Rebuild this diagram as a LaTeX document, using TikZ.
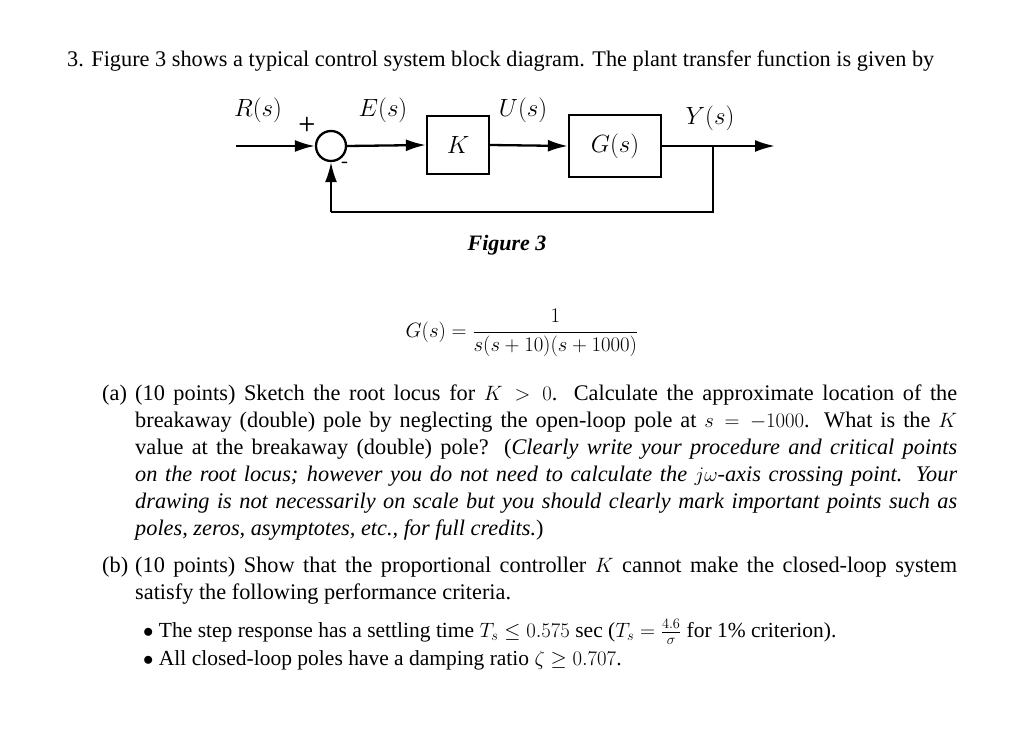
\documentclass[tikz,border=0pt]{standalone}
\usepackage{fontspec}
\setmainfont{Liberation Serif}
\usetikzlibrary{arrows.meta}
\begin{document}
\begin{tikzpicture}[x=1pt,y=-1pt,
  txt/.style={anchor=base west,inner sep=0pt,font=\fontsize{22.3}{26}\selectfont},
  lbl/.style={inner sep=0pt,font=\fontsize{24}{26}\selectfont},
  blk/.style={draw,line width=2.3pt,inner sep=0pt,font=\fontsize{24}{26}\selectfont},
  sig/.style={line width=2.3pt,-{Latex[length=20pt,width=12pt]}},
  ln/.style={line width=2.3pt}]
\useasboundingbox (0,0) rectangle (1024,738);
% heading
\node[txt] (h) at (67,67) {3. Figure 3 shows a typical control system block diagram. The plant transfer function is given by};
% block diagram
\coordinate (in) at (236,146);
\node[draw,circle,line width=2.3pt,minimum size=30pt,inner sep=0pt] (sum) at (331,146) {};
\node[blk,minimum width=62pt,minimum height=58pt] (K) at (458,145) {$K$};
\node[blk,minimum width=92pt,minimum height=62pt] (G) at (615,146) {$G(s)$};
\coordinate (br) at (713,146);
\coordinate (out) at (775,146);
\coordinate (c1) at (713,212);
\coordinate (c2) at (331,212);
\draw[sig] (in) -- (sum.west);
\draw[sig] (sum.east) -- (K.west);
\draw[sig] (K.east) -- (G.west);
\draw[sig] (G.east) -- (out);
\draw[ln] (br) -- (c1) -- (c2);
\draw[sig] (c2) -- (sum.south);
\node[lbl] (R) at (258,110) {$R(s)$};
\node[lbl,font=\sffamily\bfseries\fontsize{20}{20}\selectfont] (p) at (307,125) {+};
\node[lbl] (E) at (383,110) {$E(s)$};
\node[lbl] (U) at (523,110) {$U(s)$};
\node[lbl] (Y) at (710,118) {$Y(s)$};
\node[lbl,font=\sffamily\bfseries\fontsize{20}{20}\selectfont] (m) at (345,165) {-};
\node[inner sep=0pt,font=\fontsize{22}{25}\selectfont\bfseries\itshape] (f3) at (507,245) {Figure 3};
% equation
\node[inner sep=0pt,font=\fontsize{22}{26}\selectfont] (eq) at (522,333) {$\displaystyle G(s)=\frac{1}{s(s+10)(s+1000)}$};
% (a)
\node[txt] (a0) at (102,400) {(a)};
\node[txt] (a1) at (135,400) {\hbox to 822pt{(10 points) Sketch the root locus for $K>0$. Calculate the approximate location of the}};
\node[txt] (a2) at (135,427) {\hbox to 822pt{breakaway (double) pole by neglecting the open-loop pole at $s=-1000$. What is the $K$}};
\node[txt] (a3) at (135,454) {\hbox to 822pt{value at the breakaway (double) pole? (\textit{Clearly write your procedure and critical points}}};
\node[txt] (a4) at (135,481) {\hbox to 822pt{\itshape on the root locus; however you do not need to calculate the $j\omega$-axis crossing point. Your}};
\node[txt] (a5) at (135,508) {\hbox to 822pt{\itshape drawing is not necessarily on scale but you should clearly mark important points such as}};
\node[txt] (a6) at (135,535) {\textit{poles, zeros, asymptotes, etc., for full credits.})};
% (b)
\node[txt] (b0) at (102,572) {(b)};
\node[txt] (b1) at (135,572) {\hbox to 822pt{(10 points) Show that the proportional controller $K$ cannot make the closed-loop system}};
\node[txt] (b2) at (135,599) {satisfy the following performance criteria.};
\node[txt,font=\fontsize{21.5}{26}\selectfont] (c1t) at (143,637) {$\bullet$ The step response has a settling time $T_s\le 0.575$ sec ($T_s=\frac{4.6}{\sigma}$ for 1\% criterion).};
\node[txt,font=\fontsize{21.5}{26}\selectfont] (c2t) at (143,665) {$\bullet$ All closed-loop poles have a damping ratio $\zeta\ge 0.707$.};
\end{tikzpicture}
\end{document}
